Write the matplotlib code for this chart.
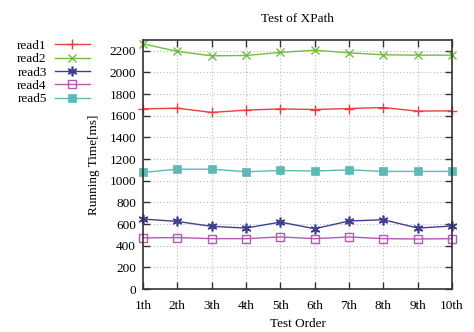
import matplotlib
matplotlib.use("Agg")
import matplotlib.pyplot as plt

plt.rcParams['font.family'] = ['Liberation Serif', 'DejaVu Serif']

orders = ["1th", "2th", "3th", "4th", "5th", "6th", "7th", "8th", "9th", "10th"]
read1 = [1664, 1670, 1631, 1652, 1664, 1658, 1667, 1676, 1643, 1646]
read2 = [2265, 2194, 2154, 2157, 2185, 2206, 2182, 2163, 2160, 2160]
read3 = [646, 624, 579, 563, 618, 557, 628, 640, 563, 582]
read4 = [472, 475, 465, 465, 481, 465, 481, 465, 462, 465]
read5 = [1077, 1107, 1107, 1083, 1095, 1089, 1101, 1086, 1086, 1086]
yticks = list(range(0, 2201, 200))

x = list(range(1, len(orders) + 1))

fig = plt.figure(figsize=(4.74, 3.32), dpi=100)
ax = fig.add_axes([0.3017, 0.1295, 0.652, 0.75])

series = [
    ("read1", read1, "#e8403a", dict(marker="+", markersize=7, markeredgewidth=1.0)),
    ("read2", read2, "#6fbf3f", dict(marker="x", markersize=6, markeredgewidth=1.0)),
    ("read3", read3, "#3f3f8f", dict(marker=(6, 2, 0), markersize=7, markeredgewidth=1.2)),
    ("read4", read4, "#b458b0", dict(marker="s", markersize=6, markerfacecolor="none", markeredgewidth=1.0)),
    ("read5", read5, "#5cbab6", dict(marker="s", markersize=5.5, markeredgewidth=0.5)),
]
handles = []
for name, vals, col, mk in series:
    h, = ax.plot(x, vals, color=col, linewidth=1.0, label=name, clip_on=False, **mk)
    handles.append(h)

ax.set_xlim(1, 10)
ax.set_ylim(0, 2300)
ax.set_xticks(x)
ax.set_xticklabels(orders)
ax.set_yticks(yticks)
ax.tick_params(direction="in", top=True, right=True, length=5, width=1.0,
               labelsize=9.5, color="#333333")
ax.tick_params(axis="x", pad=8)
ax.tick_params(axis="y", pad=5)
for s in ax.spines.values():
    s.set_linewidth(1.2)
    s.set_color("#333333")
ax.grid(True, linestyle=(0, (1, 2)), color="#bbbbbb", linewidth=0.8)
ax.set_axisbelow(True)

ax.set_xlabel("Test Order", fontsize=9.5, labelpad=4)
ax.set_ylabel("Running Time[ms]", fontsize=9.5, labelpad=7)
ax.set_title("Test of XPath", fontsize=9.5, pad=13)

fig.legend(handles=handles, loc="upper left", bbox_to_anchor=(0.022, 0.9),
           frameon=False, markerfirst=False, fontsize=9.5, handlelength=2.7,
           numpoints=1, handletextpad=0.6, labelspacing=0.08, borderpad=0)

fig.savefig("out.png", dpi=100)
